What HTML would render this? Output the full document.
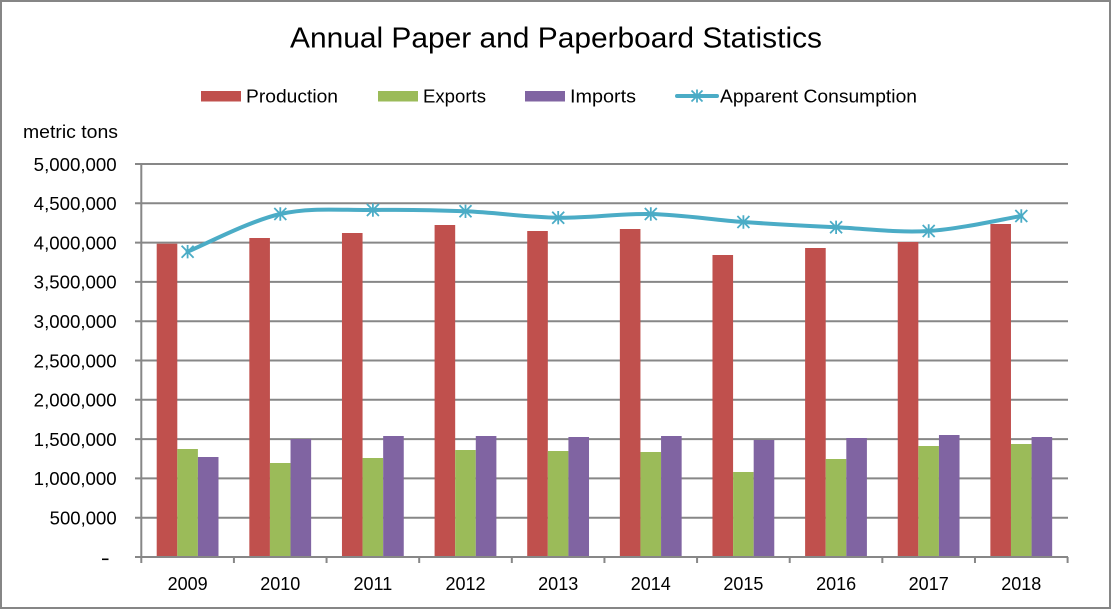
<!DOCTYPE html>
<html>
<head>
<meta charset="utf-8">
<style>
html,body{margin:0;padding:0;background:#fff;}
svg{display:block;font-family:"Liberation Sans",Arial,sans-serif;}
</style>
</head>
<body>
<svg width="1111" height="609" viewBox="0 0 1111 609" xmlns="http://www.w3.org/2000/svg">
  <rect x="1" y="1" width="1109" height="607" fill="#fff" stroke="#868686" stroke-width="2"/>

  <!-- Title -->
  <text x="290" y="47.7" font-size="28.5" fill="#000" textLength="532" lengthAdjust="spacingAndGlyphs">Annual Paper and Paperboard Statistics</text>

  <!-- Legend -->
  <rect x="201" y="91" width="40" height="10.5" fill="#C0504D"/>
  <text x="246" y="102.3" font-size="18" fill="#000" textLength="92" lengthAdjust="spacingAndGlyphs">Production</text>
  <rect x="378" y="91" width="40" height="10.5" fill="#9BBB59"/>
  <text x="423" y="102.3" font-size="18" fill="#000" textLength="63" lengthAdjust="spacingAndGlyphs">Exports</text>
  <rect x="525" y="91" width="40" height="10.5" fill="#8064A2"/>
  <text x="570" y="102.3" font-size="18" fill="#000" textLength="66" lengthAdjust="spacingAndGlyphs">Imports</text>
  <line x1="677" y1="96" x2="717" y2="96" stroke="#4BACC6" stroke-width="4" stroke-linecap="round"/>
  <g stroke="#4BACC6" stroke-width="1.8" fill="none">
    <line x1="697" y1="89.5" x2="697" y2="102.5"/>
    <line x1="691.5" y1="90.5" x2="702.5" y2="101.5"/>
    <line x1="702.5" y1="90.5" x2="691.5" y2="101.5"/>
  </g>
  <text x="720" y="102.3" font-size="18" fill="#000" textLength="197" lengthAdjust="spacingAndGlyphs">Apparent Consumption</text>

  <!-- axis title -->
  <text x="23" y="138" font-size="18" fill="#000" textLength="95" lengthAdjust="spacingAndGlyphs">metric tons</text>

  <!-- Gridlines -->
  <g stroke="#878787" stroke-width="2">
    <line x1="135" y1="164" x2="1068" y2="164"/>
    <line x1="135" y1="203.3" x2="1068" y2="203.3"/>
    <line x1="135" y1="242.6" x2="1068" y2="242.6"/>
    <line x1="135" y1="281.9" x2="1068" y2="281.9"/>
    <line x1="135" y1="321.2" x2="1068" y2="321.2"/>
    <line x1="135" y1="360.5" x2="1068" y2="360.5"/>
    <line x1="135" y1="399.8" x2="1068" y2="399.8"/>
    <line x1="135" y1="439.1" x2="1068" y2="439.1"/>
    <line x1="135" y1="478.4" x2="1068" y2="478.4"/>
    <line x1="135" y1="517.7" x2="1068" y2="517.7"/>
  </g>

  <!-- Y labels -->
  <g font-size="18" fill="#000" text-anchor="end">
    <text x="116.7" y="170.8" textLength="83" lengthAdjust="spacingAndGlyphs">5,000,000</text>
    <text x="116.7" y="210.1" textLength="83" lengthAdjust="spacingAndGlyphs">4,500,000</text>
    <text x="116.7" y="249.4" textLength="83" lengthAdjust="spacingAndGlyphs">4,000,000</text>
    <text x="116.7" y="288.7" textLength="83" lengthAdjust="spacingAndGlyphs">3,500,000</text>
    <text x="116.7" y="328" textLength="83" lengthAdjust="spacingAndGlyphs">3,000,000</text>
    <text x="116.7" y="367.3" textLength="83" lengthAdjust="spacingAndGlyphs">2,500,000</text>
    <text x="116.7" y="406.6" textLength="83" lengthAdjust="spacingAndGlyphs">2,000,000</text>
    <text x="116.7" y="445.9" textLength="83" lengthAdjust="spacingAndGlyphs">1,500,000</text>
    <text x="116.7" y="485.2" textLength="83" lengthAdjust="spacingAndGlyphs">1,000,000</text>
    <text x="116.7" y="524.5" textLength="67" lengthAdjust="spacingAndGlyphs">500,000</text>
  </g>
  <rect x="102" y="558.5" width="6.5" height="1.6" fill="#000"/>

  <!-- Bars: Production -->
  <g fill="#C0504D">
    <rect x="156.7" y="243.7" width="20.6" height="313.3"/>
    <rect x="249.33" y="238" width="20.6" height="319"/>
    <rect x="341.96" y="233" width="20.6" height="324"/>
    <rect x="434.59" y="225" width="20.6" height="332"/>
    <rect x="527.22" y="231" width="20.6" height="326"/>
    <rect x="619.85" y="229" width="20.6" height="328"/>
    <rect x="712.48" y="255" width="20.6" height="302"/>
    <rect x="805.11" y="248" width="20.6" height="309"/>
    <rect x="897.74" y="242" width="20.6" height="315"/>
    <rect x="990.37" y="224" width="20.6" height="333"/>
  </g>
  <!-- Exports -->
  <g fill="#9BBB59">
    <rect x="177.3" y="449" width="20.6" height="108"/>
    <rect x="269.93" y="463" width="20.6" height="94"/>
    <rect x="362.56" y="458" width="20.6" height="99"/>
    <rect x="455.19" y="450" width="20.6" height="107"/>
    <rect x="547.82" y="451" width="20.6" height="106"/>
    <rect x="640.45" y="452" width="20.6" height="105"/>
    <rect x="733.08" y="472" width="20.6" height="85"/>
    <rect x="825.71" y="459" width="20.6" height="98"/>
    <rect x="918.34" y="446" width="20.6" height="111"/>
    <rect x="1010.97" y="444" width="20.6" height="113"/>
  </g>
  <!-- Imports -->
  <g fill="#8064A2">
    <rect x="197.9" y="457" width="20.6" height="100"/>
    <rect x="290.53" y="439" width="20.6" height="118"/>
    <rect x="383.16" y="436" width="20.6" height="121"/>
    <rect x="475.79" y="436" width="20.6" height="121"/>
    <rect x="568.42" y="437" width="20.6" height="120"/>
    <rect x="661.05" y="436" width="20.6" height="121"/>
    <rect x="753.68" y="440" width="20.6" height="117"/>
    <rect x="846.31" y="438" width="20.6" height="119"/>
    <rect x="938.94" y="435" width="20.6" height="122"/>
    <rect x="1031.57" y="437" width="20.6" height="120"/>
  </g>

  <!-- Axes -->
  <g stroke="#878787" stroke-width="2">
    <line x1="135" y1="557" x2="1068" y2="557"/>
    <line x1="141.3" y1="164" x2="141.3" y2="563"/>
    <line x1="233.93" y1="557" x2="233.93" y2="563"/>
    <line x1="326.56" y1="557" x2="326.56" y2="563"/>
    <line x1="419.19" y1="557" x2="419.19" y2="563"/>
    <line x1="511.82" y1="557" x2="511.82" y2="563"/>
    <line x1="604.45" y1="557" x2="604.45" y2="563"/>
    <line x1="697.08" y1="557" x2="697.08" y2="563"/>
    <line x1="789.71" y1="557" x2="789.71" y2="563"/>
    <line x1="882.34" y1="557" x2="882.34" y2="563"/>
    <line x1="974.97" y1="557" x2="974.97" y2="563"/>
    <line x1="1067.6" y1="557" x2="1067.6" y2="563"/>
  </g>

  <!-- X labels -->
  <g font-size="18" fill="#000" text-anchor="middle">
    <text x="187.6" y="590">2009</text>
    <text x="280.3" y="590">2010</text>
    <text x="372.9" y="590">2011</text>
    <text x="465.5" y="590">2012</text>
    <text x="558.2" y="590">2013</text>
    <text x="650.8" y="590">2014</text>
    <text x="743.4" y="590">2015</text>
    <text x="836.1" y="590">2016</text>
    <text x="928.7" y="590">2017</text>
    <text x="1021.3" y="590">2018</text>
  </g>

  <!-- Line: Apparent Consumption (smoothed) -->
  <path d="M187.6,251.7 C203.05,245.42 249.42,220.95 280.3,214 C311.18,207.05 342.03,210.45 372.9,210 C403.77,209.55 434.62,210.02 465.5,211.3 C496.38,212.58 527.32,217.25 558.2,217.7 C589.08,218.15 619.93,213.28 650.8,214 C681.67,214.72 712.52,219.78 743.4,222 C774.28,224.22 805.22,225.8 836.1,227.3 C866.98,228.8 897.83,232.88 928.7,231 C959.57,229.12 1005.87,218.5 1021.3,216" fill="none" stroke="#4BACC6" stroke-width="4" stroke-linecap="round" stroke-linejoin="round"/>

  <!-- Markers -->
  <g stroke="#4BACC6" stroke-width="1.8" fill="none">
    <path d="M187.6,245 V258.4 M181.6,245.7 L193.6,257.7 M193.6,245.7 L181.6,257.7"/>
    <path d="M280.3,207.3 V220.7 M274.3,208 L286.3,220 M286.3,208 L274.3,220"/>
    <path d="M372.9,203.3 V216.7 M366.9,204 L378.9,216 M378.9,204 L366.9,216"/>
    <path d="M465.5,204.6 V218 M459.5,205.3 L471.5,217.3 M471.5,205.3 L459.5,217.3"/>
    <path d="M558.2,211 V224.4 M552.2,211.7 L564.2,223.7 M564.2,211.7 L552.2,223.7"/>
    <path d="M650.8,207.3 V220.7 M644.8,208 L656.8,220 M656.8,208 L644.8,220"/>
    <path d="M743.4,215.3 V228.7 M737.4,216 L749.4,228 M749.4,216 L737.4,228"/>
    <path d="M836.1,220.6 V234 M830.1,221.3 L842.1,233.3 M842.1,221.3 L830.1,233.3"/>
    <path d="M928.7,224.3 V237.7 M922.7,225 L934.7,237 M934.7,225 L922.7,237"/>
    <path d="M1021.3,209.3 V222.7 M1015.3,210 L1027.3,222 M1027.3,210 L1015.3,222"/>
  </g>
</svg>
</body>
</html>
